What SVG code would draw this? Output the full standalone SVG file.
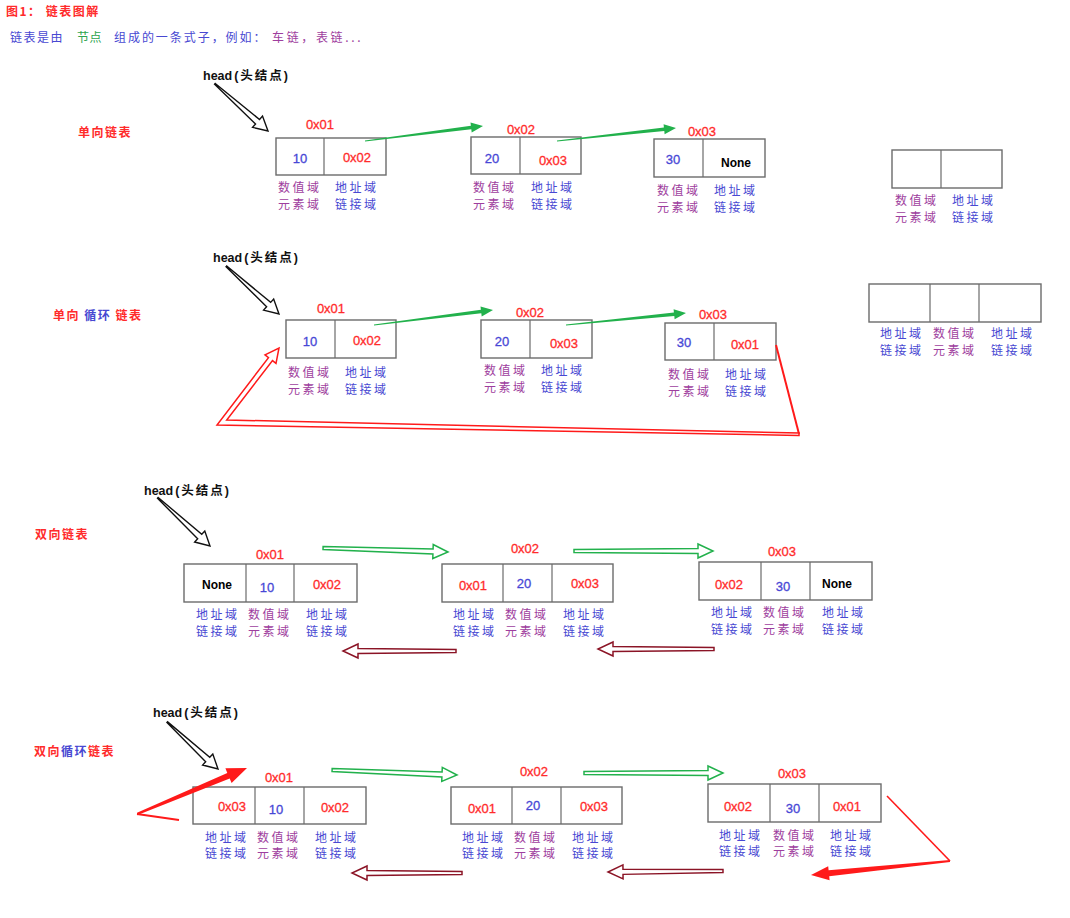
<svg xmlns="http://www.w3.org/2000/svg" width="1070" height="918" viewBox="0 0 1070 918">
  <style>
    .box{fill:#fff;stroke:#6b6b6b;stroke-width:1.4}
    .dv{stroke:#6b6b6b;stroke-width:1.2}
    .hex{font-family:"Liberation Sans",Arial,sans-serif;font-size:13px;fill:#ff2b2b;stroke:#ff2b2b;stroke-width:0.3;text-anchor:middle}
    .val{font-family:"Liberation Sans",Arial,sans-serif;font-size:13px;fill:#4747d6;stroke:#4747d6;stroke-width:0.3;text-anchor:middle}
    .none{font-family:"Liberation Sans",Arial,sans-serif;font-size:12px;font-weight:bold;fill:#000;text-anchor:middle}
    .lp{font-family:"Noto Sans CJK SC",sans-serif;font-size:12px;fill:#9e3e9e;letter-spacing:2.5px}
    .lb{font-family:"Noto Sans CJK SC",sans-serif;font-size:12px;fill:#4848d2;letter-spacing:2.5px}
    .head{font-family:"Liberation Sans","Noto Sans CJK SC",sans-serif;font-size:12.5px;font-weight:bold;fill:#111}
    .sec{font-family:"Noto Sans CJK SC",sans-serif;font-size:12px;font-weight:bold;letter-spacing:1.5px}
    .intro{font-family:"Noto Sans CJK SC",sans-serif;font-size:12px;letter-spacing:1.5px}
    .red{fill:#ff2b2b}
    .blue{fill:#4848d2}
    .purple{fill:#9e3e9e}
    .green{fill:#2da44e}
    .harrow{fill:#fff;stroke:#111;stroke-width:1.4;stroke-linejoin:miter}
    .garrow{fill:#fff;stroke:#22b14c;stroke-width:1.5}
    .darrow{fill:#fff;stroke:#8b1426;stroke-width:1.5}
    .gsolid{fill:#22b14c}
  </style>
  <rect width="1070" height="918" fill="#fff"/>

  <!-- heading lines -->
  <g id="title">
    <text x="6" y="16" class="sec red" font-size="12.5">图1： 链表图解</text>
    <text y="42" class="intro">
      <tspan x="10" class="blue" textLength="54">链表是由</tspan>
      <tspan x="77" class="green" textLength="26">节点</tspan>
      <tspan x="114" class="blue" textLength="153">组成的一条式子，例如：</tspan>
      <tspan x="272" class="purple" textLength="90">车链，表链...</tspan>
    </text>
  </g>

  <!-- ===== 单向链表 ===== -->
  <g id="s1-label"><text x="78" y="137" class="sec red">单向链表</text></g>
  <g id="s1-head"><text x="203" y="80" class="head">head<tspan dx="2" letter-spacing="2">(头结点)</tspan></text></g>
  <g id="s1-n1">
    <text x="320" y="129" class="hex">0x01</text>
    <rect x="276" y="138" width="110" height="37" class="box"/>
    <line x1="324" y1="138" x2="324" y2="175" class="dv"/>
    <text x="300" y="163" class="val">10</text>
    <text x="357" y="162" class="hex">0x02</text>
    <text x="278" y="192" class="lp">数值域<tspan x="278" dy="17">元素域</tspan></text>
    <text x="335" y="192" class="lb">地址域<tspan x="335" dy="17">链接域</tspan></text>
  </g>
  <g id="s1-n2">
    <text x="521" y="134" class="hex">0x02</text>
    <rect x="471" y="137" width="110" height="37" class="box"/>
    <line x1="520" y1="137" x2="520" y2="174" class="dv"/>
    <text x="492" y="163" class="val">20</text>
    <text x="553" y="165" class="hex">0x03</text>
    <text x="473" y="192" class="lp">数值域<tspan x="473" dy="17">元素域</tspan></text>
    <text x="531" y="192" class="lb">地址域<tspan x="531" dy="17">链接域</tspan></text>
  </g>
  <g id="s1-n3">
    <text x="702" y="136" class="hex">0x03</text>
    <rect x="654" y="139" width="111" height="38" class="box"/>
    <line x1="703" y1="139" x2="703" y2="177" class="dv"/>
    <text x="673" y="164" class="val">30</text>
    <text x="736" y="167" class="none">None</text>
    <text x="657" y="195" class="lp">数值域<tspan x="657" dy="17">元素域</tspan></text>
    <text x="714" y="195" class="lb">地址域<tspan x="714" dy="17">链接域</tspan></text>
  </g>
  <g id="s1-blank">
    <rect x="892" y="150" width="110" height="38" class="box"/>
    <line x1="941" y1="150" x2="941" y2="188" class="dv"/>
    <text x="895" y="205" class="lp">数值域<tspan x="895" dy="17">元素域</tspan></text>
    <text x="952" y="205" class="lb">地址域<tspan x="952" dy="17">链接域</tspan></text>
  </g>

  <!-- ===== 单向循环链表 ===== -->
  <g id="s2-label"><text x="53" y="320" class="sec"><tspan class="red">单向 </tspan><tspan class="blue">循环 </tspan><tspan class="red">链表</tspan></text></g>
  <g id="s2-head"><text x="213" y="262" class="head">head<tspan dx="2" letter-spacing="2">(头结点)</tspan></text></g>
  <g id="s2-n1">
    <text x="331" y="313" class="hex">0x01</text>
    <rect x="286" y="320" width="110" height="38" class="box"/>
    <line x1="335" y1="320" x2="335" y2="358" class="dv"/>
    <text x="310" y="346" class="val">10</text>
    <text x="367" y="345" class="hex">0x02</text>
    <text x="288" y="377" class="lp">数值域<tspan x="288" dy="17">元素域</tspan></text>
    <text x="345" y="377" class="lb">地址域<tspan x="345" dy="17">链接域</tspan></text>
  </g>
  <g id="s2-n2">
    <text x="530" y="317" class="hex">0x02</text>
    <rect x="481" y="320" width="111" height="38" class="box"/>
    <line x1="530" y1="320" x2="530" y2="358" class="dv"/>
    <text x="502" y="346" class="val">20</text>
    <text x="564" y="348" class="hex">0x03</text>
    <text x="484" y="375" class="lp">数值域<tspan x="484" dy="17">元素域</tspan></text>
    <text x="541" y="375" class="lb">地址域<tspan x="541" dy="17">链接域</tspan></text>
  </g>
  <g id="s2-n3">
    <text x="713" y="319" class="hex">0x03</text>
    <rect x="665" y="323" width="111" height="37" class="box"/>
    <line x1="714" y1="323" x2="714" y2="360" class="dv"/>
    <text x="684" y="347" class="val">30</text>
    <text x="745" y="349" class="hex">0x01</text>
    <text x="668" y="379" class="lp">数值域<tspan x="668" dy="17">元素域</tspan></text>
    <text x="725" y="379" class="lb">地址域<tspan x="725" dy="17">链接域</tspan></text>
  </g>
  <g id="s2-blank">
    <rect x="869" y="284" width="172" height="38" class="box"/>
    <line x1="930" y1="284" x2="930" y2="322" class="dv"/>
    <line x1="979" y1="284" x2="979" y2="322" class="dv"/>
    <text x="880" y="338" class="lb">地址域<tspan x="880" dy="17">链接域</tspan></text>
    <text x="933" y="338" class="lp">数值域<tspan x="933" dy="17">元素域</tspan></text>
    <text x="991" y="338" class="lb">地址域<tspan x="991" dy="17">链接域</tspan></text>
  </g>

  <!-- ===== 双向链表 ===== -->
  <g id="s3-label"><text x="35" y="539" class="sec red">双向链表</text></g>
  <g id="s3-head"><text x="144" y="495" class="head">head<tspan dx="2" letter-spacing="2">(头结点)</tspan></text></g>
  <g id="s3-n1">
    <text x="270" y="559" class="hex">0x01</text>
    <rect x="184" y="564" width="173" height="38" class="box"/>
    <line x1="246" y1="564" x2="246" y2="602" class="dv"/>
    <line x1="294" y1="564" x2="294" y2="602" class="dv"/>
    <text x="217" y="589" class="none">None</text>
    <text x="267" y="592" class="val">10</text>
    <text x="327" y="589" class="hex">0x02</text>
    <text x="196" y="619" class="lb">地址域<tspan x="196" dy="17">链接域</tspan></text>
    <text x="248" y="619" class="lp">数值域<tspan x="248" dy="17">元素域</tspan></text>
    <text x="306" y="619" class="lb">地址域<tspan x="306" dy="17">链接域</tspan></text>
  </g>
  <g id="s3-n2">
    <text x="525" y="553" class="hex">0x02</text>
    <rect x="442" y="564" width="171" height="38" class="box"/>
    <line x1="503" y1="564" x2="503" y2="602" class="dv"/>
    <line x1="552" y1="564" x2="552" y2="602" class="dv"/>
    <text x="473" y="590" class="hex">0x01</text>
    <text x="524" y="588" class="val">20</text>
    <text x="585" y="588" class="hex">0x03</text>
    <text x="453" y="619" class="lb">地址域<tspan x="453" dy="17">链接域</tspan></text>
    <text x="505" y="619" class="lp">数值域<tspan x="505" dy="17">元素域</tspan></text>
    <text x="563" y="619" class="lb">地址域<tspan x="563" dy="17">链接域</tspan></text>
  </g>
  <g id="s3-n3">
    <text x="782" y="556" class="hex">0x03</text>
    <rect x="699" y="562" width="173" height="38" class="box"/>
    <line x1="761" y1="562" x2="761" y2="600" class="dv"/>
    <line x1="810" y1="562" x2="810" y2="600" class="dv"/>
    <text x="729" y="589" class="hex">0x02</text>
    <text x="783" y="591" class="val">30</text>
    <text x="837" y="588" class="none">None</text>
    <text x="711" y="617" class="lb">地址域<tspan x="711" dy="17">链接域</tspan></text>
    <text x="763" y="617" class="lp">数值域<tspan x="763" dy="17">元素域</tspan></text>
    <text x="822" y="617" class="lb">地址域<tspan x="822" dy="17">链接域</tspan></text>
  </g>

  <!-- ===== 双向循环链表 ===== -->
  <g id="s4-label"><text x="34" y="756" class="sec"><tspan class="red">双向</tspan><tspan class="blue">循环</tspan><tspan class="red">链表</tspan></text></g>
  <g id="s4-head"><text x="153" y="717" class="head">head<tspan dx="2" letter-spacing="2">(头结点)</tspan></text></g>
  <g id="s4-n1">
    <text x="279" y="782" class="hex">0x01</text>
    <rect x="193" y="787" width="173" height="37" class="box"/>
    <line x1="255" y1="787" x2="255" y2="824" class="dv"/>
    <line x1="304" y1="787" x2="304" y2="824" class="dv"/>
    <text x="232" y="811" class="hex">0x03</text>
    <text x="276" y="814" class="val">10</text>
    <text x="335" y="812" class="hex">0x02</text>
    <text x="205" y="842" class="lb">地址域<tspan x="205" dy="16">链接域</tspan></text>
    <text x="257" y="842" class="lp">数值域<tspan x="257" dy="16">元素域</tspan></text>
    <text x="315" y="842" class="lb">地址域<tspan x="315" dy="16">链接域</tspan></text>
  </g>
  <g id="s4-n2">
    <text x="534" y="776" class="hex">0x02</text>
    <rect x="451" y="787" width="171" height="37" class="box"/>
    <line x1="512" y1="787" x2="512" y2="824" class="dv"/>
    <line x1="561" y1="787" x2="561" y2="824" class="dv"/>
    <text x="482" y="813" class="hex">0x01</text>
    <text x="533" y="810" class="val">20</text>
    <text x="594" y="811" class="hex">0x03</text>
    <text x="462" y="842" class="lb">地址域<tspan x="462" dy="16">链接域</tspan></text>
    <text x="514" y="842" class="lp">数值域<tspan x="514" dy="16">元素域</tspan></text>
    <text x="572" y="842" class="lb">地址域<tspan x="572" dy="16">链接域</tspan></text>
  </g>
  <g id="s4-n3">
    <text x="792" y="778" class="hex">0x03</text>
    <rect x="708" y="784" width="173" height="38" class="box"/>
    <line x1="770" y1="784" x2="770" y2="822" class="dv"/>
    <line x1="819" y1="784" x2="819" y2="822" class="dv"/>
    <text x="738" y="811" class="hex">0x02</text>
    <text x="793" y="813" class="val">30</text>
    <text x="847" y="811" class="hex">0x01</text>
    <text x="719" y="840" class="lb">地址域<tspan x="719" dy="16">链接域</tspan></text>
    <text x="773" y="840" class="lp">数值域<tspan x="773" dy="16">元素域</tspan></text>
    <text x="830" y="840" class="lb">地址域<tspan x="830" dy="16">链接域</tspan></text>
  </g>

  <!-- ===== connectors ===== -->
  <g id="connectors">
    <!-- head pointers (hollow black) -->
    <polygon class="harrow" transform="translate(268,131) rotate(41.6)" points="-71,-0.5 -14,-3 -14,-7.5 0,0 -14,7.5 -14,3 -71,0.5"/>
    <polygon class="harrow" transform="translate(279,314) rotate(42.2)" points="-71,-0.5 -14,-3 -14,-7.5 0,0 -14,7.5 -14,3 -71,0.5"/>
    <polygon class="harrow" transform="translate(210,546) rotate(42.7)" points="-71,-0.5 -14,-3 -14,-7.5 0,0 -14,7.5 -14,3 -71,0.5"/>
    <polygon class="harrow" transform="translate(218,769) rotate(42.7)" points="-69,-0.5 -14,-3 -14,-7.5 0,0 -14,7.5 -14,3 -69,0.5"/>

    <!-- singly linked: next pointers (solid green) -->
    <polygon class="gsolid" points="364.9,140.5 470.9,125.7 470.5,122.5 483,126 471.7,132.5 471.3,129.3 365.1,141.5"/>
    <polygon class="gsolid" points="557,140.5 663.9,127.5 663.6,124.3 676,128 664.6,134.3 664.3,131.1 557,141.5"/>
    <polygon class="gsolid" points="374,324.5 480.9,309.7 480.5,306.5 493,310 481.7,316.5 481.3,313.3 374,325.5"/>
    <polygon class="gsolid" points="566,324.5 673.9,312.4 673.6,309.2 686,313 674.6,319.2 674.3,316 566,325.5"/>

    <!-- circular link back to the first node -->
    <line x1="776" y1="345" x2="799" y2="434" stroke="#ff1a1a" stroke-width="2"/>
    <polygon points="799,435.5 217,425 268.5,357.6 265,354.8 279,348 276,363.4 272.5,360.6 226.7,420 799,433" fill="#fff" stroke="#ff1a1a" stroke-width="1.5"/>

    <!-- doubly linked: next (green) and prev (dark red) -->
    <polygon class="garrow" transform="translate(448,552) rotate(1.8)" points="-125,-1.5 -15,-2.5 -15,-7 0,0 -15,7 -15,2.5 -125,1.5"/>
    <polygon class="garrow" transform="translate(713,551)" points="-139,-1.5 -15,-2.5 -15,-7 0,0 -15,7 -15,2.5 -139,1.5"/>
    <polygon class="darrow" transform="translate(343,651) rotate(180)" points="-113,-1.5 -15,-2.5 -15,-7 0,0 -15,7 -15,2.5 -113,1.5"/>
    <polygon class="darrow" transform="translate(598,649) rotate(180)" points="-116,-1.5 -15,-2.5 -15,-7 0,0 -15,7 -15,2.5 -116,1.5"/>

    <!-- doubly circular: next / prev -->
    <polygon class="garrow" transform="translate(457,775) rotate(2.3)" points="-125,-1.5 -15,-2.5 -15,-7 0,0 -15,7 -15,2.5 -125,1.5"/>
    <polygon class="garrow" transform="translate(723,773)" points="-139,-1.5 -15,-2.5 -15,-7 0,0 -15,7 -15,2.5 -139,1.5"/>
    <polygon class="darrow" transform="translate(352,873) rotate(180)" points="-110,-1.5 -15,-2.5 -15,-7 0,0 -15,7 -15,2.5 -110,1.5"/>
    <polygon class="darrow" transform="translate(608,872) rotate(179.5)" points="-115,-1.5 -15,-2.5 -15,-7 0,0 -15,7 -15,2.5 -115,1.5"/>

    <!-- doubly circular: wrap-around links (solid red) -->
    <line x1="137" y1="814" x2="179" y2="820" stroke="#ff1a1a" stroke-width="1.8"/>
    <polygon fill="#ff1a1a" points="137,815.2 229.7,778.5 231.6,783.1 247,768 225.4,768.3 227.3,772.9 137,812.8"/>
    <line x1="887" y1="796" x2="950" y2="861" stroke="#ff1a1a" stroke-width="1.6"/>
    <polygon fill="#ff1a1a" points="950,860 828.6,870.2 828.2,866.2 811,875 829.6,880.2 829.2,876.2 950,862"/>
  </g>
</svg>
